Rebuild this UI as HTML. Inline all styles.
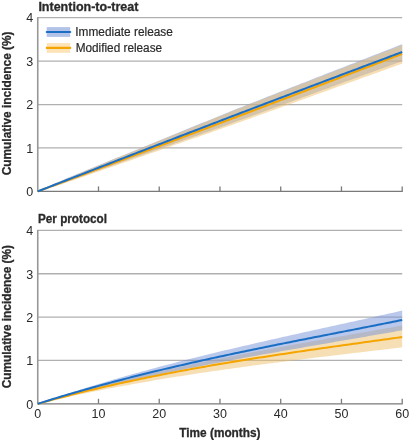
<!DOCTYPE html>
<html><head><meta charset="utf-8"><style>
html,body{margin:0;padding:0;background:#fff;}
svg{display:block;will-change:transform;}
text{font-family:"Liberation Sans",sans-serif;fill:#2a2a2a;}
.n{font-size:12.5px;}
.t{font-size:12px;font-weight:bold;stroke:#2a2a2a;stroke-width:0.3px;}
.l{font-size:12px;fill:#2a2a2a;stroke:#2a2a2a;stroke-width:0.2px;}
</style></head><body>
<svg width="409" height="440" viewBox="0 0 409 440">
<rect width="409" height="440" fill="#fff"/>
<line x1="37.75" y1="147.96" x2="402.20" y2="147.96" stroke="#b0b0b0" stroke-width="1.3"/>
<line x1="37.75" y1="104.53" x2="402.20" y2="104.53" stroke="#b0b0b0" stroke-width="1.3"/>
<line x1="37.75" y1="61.09" x2="402.20" y2="61.09" stroke="#b0b0b0" stroke-width="1.3"/>
<line x1="37.75" y1="17.65" x2="402.20" y2="17.65" stroke="#b0b0b0" stroke-width="1.3"/>
<polygon points="37.75,191.40 40.79,189.95 43.82,188.51 46.86,187.08 49.90,185.68 52.94,184.31 55.97,182.98 59.01,181.68 62.05,180.39 65.08,179.11 68.12,177.83 71.16,176.57 74.19,175.31 77.23,174.06 80.27,172.81 83.31,171.57 86.34,170.32 89.38,169.08 92.42,167.84 95.45,166.59 98.49,165.34 101.53,164.09 104.57,162.84 107.60,161.60 110.64,160.35 113.68,159.11 116.71,157.87 119.75,156.63 122.79,155.39 125.83,154.15 128.86,152.91 131.90,151.68 134.94,150.44 137.97,149.20 141.01,147.97 144.05,146.73 147.09,145.49 150.12,144.26 153.16,143.02 156.20,141.78 159.23,140.54 162.27,139.30 165.31,138.06 168.34,136.82 171.38,135.58 174.42,134.33 177.46,133.09 180.49,131.84 183.53,130.59 186.57,129.35 189.60,128.10 192.64,126.85 195.68,125.61 198.72,124.36 201.75,123.12 204.79,121.88 207.83,120.64 210.86,119.40 213.90,118.16 216.94,116.93 219.97,115.69 223.01,114.46 226.05,113.24 229.09,112.01 232.12,110.79 235.16,109.57 238.20,108.36 241.23,107.15 244.27,105.94 247.31,104.74 250.35,103.54 253.38,102.34 256.42,101.14 259.46,99.95 262.49,98.75 265.53,97.56 268.57,96.37 271.61,95.18 274.64,93.99 277.68,92.80 280.72,91.62 283.75,90.43 286.79,89.24 289.83,88.06 292.87,86.87 295.90,85.69 298.94,84.50 301.98,83.31 305.01,82.13 308.05,80.94 311.09,79.75 314.12,78.56 317.16,77.37 320.20,76.19 323.24,75.00 326.27,73.81 329.31,72.62 332.35,71.44 335.38,70.25 338.42,69.06 341.46,67.88 344.50,66.69 347.53,65.50 350.57,64.32 353.61,63.13 356.64,61.95 359.68,60.76 362.72,59.58 365.75,58.39 368.79,57.21 371.83,56.02 374.87,54.84 377.90,53.65 380.94,52.47 383.98,51.29 387.01,50.10 390.05,48.92 393.09,47.74 396.13,46.56 399.16,45.37 402.20,44.19 402.20,61.11 399.16,62.21 396.13,63.32 393.09,64.42 390.05,65.53 387.01,66.63 383.98,67.73 380.94,68.84 377.90,69.94 374.87,71.05 371.83,72.15 368.79,73.26 365.75,74.36 362.72,75.47 359.68,76.57 356.64,77.68 353.61,78.78 350.57,79.89 347.53,80.99 344.50,82.10 341.46,83.21 338.42,84.31 335.38,85.42 332.35,86.52 329.31,87.63 326.27,88.74 323.24,89.84 320.20,90.95 317.16,92.06 314.12,93.16 311.09,94.27 308.05,95.38 305.01,96.49 301.98,97.60 298.94,98.71 295.90,99.82 292.87,100.93 289.83,102.04 286.79,103.16 283.75,104.27 280.72,105.38 277.68,106.50 274.64,107.61 271.61,108.72 268.57,109.83 265.53,110.94 262.49,112.05 259.46,113.16 256.42,114.26 253.38,115.37 250.35,116.47 247.31,117.57 244.27,118.67 241.23,119.77 238.20,120.87 235.16,121.96 232.12,123.05 229.09,124.14 226.05,125.23 223.01,126.32 219.97,127.40 216.94,128.48 213.90,129.56 210.86,130.64 207.83,131.72 204.79,132.80 201.75,133.88 198.72,134.96 195.68,136.03 192.64,137.11 189.60,138.18 186.57,139.26 183.53,140.33 180.49,141.40 177.46,142.48 174.42,143.55 171.38,144.63 168.34,145.70 165.31,146.78 162.27,147.85 159.23,148.93 156.20,150.01 153.16,151.08 150.12,152.16 147.09,153.24 144.05,154.31 141.01,155.39 137.97,156.46 134.94,157.54 131.90,158.61 128.86,159.69 125.83,160.77 122.79,161.84 119.75,162.92 116.71,163.99 113.68,165.07 110.64,166.14 107.60,167.22 104.57,168.30 101.53,169.37 98.49,170.45 95.45,171.53 92.42,172.61 89.38,173.70 86.34,174.80 83.31,175.89 80.27,176.99 77.23,178.08 74.19,179.17 71.16,180.26 68.12,181.34 65.08,182.41 62.05,183.48 59.01,184.54 55.97,185.59 52.94,186.60 49.90,187.57 46.86,188.50 43.82,189.42 40.79,190.35 37.75,191.40" fill="rgb(115,145,215)" fill-opacity="0.5"/>
<polygon points="37.75,191.40 40.79,189.96 43.82,188.53 46.86,187.11 49.90,185.71 52.94,184.34 55.97,183.02 59.01,181.73 62.05,180.44 65.08,179.17 68.12,177.91 71.16,176.65 74.19,175.40 77.23,174.15 80.27,172.91 83.31,171.67 86.34,170.44 89.38,169.20 92.42,167.97 95.45,166.73 98.49,165.49 101.53,164.24 104.57,163.00 107.60,161.77 110.64,160.53 113.68,159.29 116.71,158.06 119.75,156.83 122.79,155.59 125.83,154.36 128.86,153.13 131.90,151.90 134.94,150.67 137.97,149.44 141.01,148.21 144.05,146.98 147.09,145.75 150.12,144.53 153.16,143.30 156.20,142.06 159.23,140.83 162.27,139.60 165.31,138.37 168.34,137.13 171.38,135.90 174.42,134.66 177.46,133.42 180.49,132.18 183.53,130.94 186.57,129.70 189.60,128.46 192.64,127.22 195.68,125.99 198.72,124.75 201.75,123.51 204.79,122.28 207.83,121.04 210.86,119.81 213.90,118.58 216.94,117.35 219.97,116.13 223.01,114.91 226.05,113.69 229.09,112.47 232.12,111.25 235.16,110.04 238.20,108.84 241.23,107.64 244.27,106.44 247.31,105.24 250.35,104.04 253.38,102.85 256.42,101.66 259.46,100.47 262.49,99.29 265.53,98.10 268.57,96.92 271.61,95.74 274.64,94.55 277.68,93.37 280.72,92.19 283.75,91.02 286.79,89.84 289.83,88.66 292.87,87.48 295.90,86.30 298.94,85.12 301.98,83.94 305.01,82.76 308.05,81.58 311.09,80.40 314.12,79.22 317.16,78.04 320.20,76.86 323.24,75.68 326.27,74.50 329.31,73.32 332.35,72.14 335.38,70.96 338.42,69.78 341.46,68.60 344.50,67.42 347.53,66.24 350.57,65.06 353.61,63.88 356.64,62.71 359.68,61.53 362.72,60.35 365.75,59.17 368.79,58.00 371.83,56.82 374.87,55.64 377.90,54.47 380.94,53.29 383.98,52.11 387.01,50.94 390.05,49.76 393.09,48.59 396.13,47.41 399.16,46.24 402.20,45.06 402.20,63.63 399.16,64.72 396.13,65.82 393.09,66.91 390.05,68.00 387.01,69.10 383.98,70.19 380.94,71.28 377.90,72.38 374.87,73.47 371.83,74.56 368.79,75.66 365.75,76.75 362.72,77.85 359.68,78.94 356.64,80.03 353.61,81.13 350.57,82.22 347.53,83.32 344.50,84.41 341.46,85.51 338.42,86.60 335.38,87.69 332.35,88.79 329.31,89.88 326.27,90.98 323.24,92.07 320.20,93.17 317.16,94.26 314.12,95.36 311.09,96.45 308.05,97.55 305.01,98.65 301.98,99.74 298.94,100.84 295.90,101.94 292.87,103.04 289.83,104.14 286.79,105.24 283.75,106.34 280.72,107.44 277.68,108.54 274.64,109.64 271.61,110.74 268.57,111.83 265.53,112.93 262.49,114.03 259.46,115.12 256.42,116.22 253.38,117.31 250.35,118.40 247.31,119.48 244.27,120.57 241.23,121.65 238.20,122.74 235.16,123.81 232.12,124.89 229.09,125.97 226.05,127.04 223.01,128.11 219.97,129.18 216.94,130.25 213.90,131.32 210.86,132.38 207.83,133.44 204.79,134.51 201.75,135.57 198.72,136.63 195.68,137.69 192.64,138.75 189.60,139.81 186.57,140.87 183.53,141.92 180.49,142.98 177.46,144.04 174.42,145.10 171.38,146.15 168.34,147.21 165.31,148.27 162.27,149.33 159.23,150.38 156.20,151.44 153.16,152.50 150.12,153.56 147.09,154.62 144.05,155.67 141.01,156.73 137.97,157.78 134.94,158.84 131.90,159.90 128.86,160.95 125.83,162.00 122.79,163.06 119.75,164.11 116.71,165.16 113.68,166.22 110.64,167.27 107.60,168.32 104.57,169.37 101.53,170.43 98.49,171.48 95.45,172.53 92.42,173.59 89.38,174.65 86.34,175.72 83.31,176.78 80.27,177.85 77.23,178.91 74.19,179.97 71.16,181.02 68.12,182.07 65.08,183.10 62.05,184.13 59.01,185.15 55.97,186.15 52.94,187.11 49.90,188.03 46.86,188.90 43.82,189.75 40.79,190.58 37.75,191.40" fill="rgb(240,192,108)" fill-opacity="0.5"/>
<line x1="37.75" y1="17.15" x2="37.75" y2="191.90" stroke="#979797" stroke-width="1.6"/>
<line x1="37.75" y1="191.40" x2="402.70" y2="191.40" stroke="#7a7a7a" stroke-width="1.3"/>
<line x1="98.49" y1="186.40" x2="98.49" y2="191.40" stroke="#7a7a7a" stroke-width="1.3"/>
<line x1="159.23" y1="186.40" x2="159.23" y2="191.40" stroke="#7a7a7a" stroke-width="1.3"/>
<line x1="219.97" y1="186.40" x2="219.97" y2="191.40" stroke="#7a7a7a" stroke-width="1.3"/>
<line x1="280.72" y1="186.40" x2="280.72" y2="191.40" stroke="#7a7a7a" stroke-width="1.3"/>
<line x1="341.46" y1="186.40" x2="341.46" y2="191.40" stroke="#7a7a7a" stroke-width="1.3"/>
<line x1="402.20" y1="186.40" x2="402.20" y2="191.40" stroke="#7a7a7a" stroke-width="1.3"/>
<polyline points="37.75,191.40 40.79,190.27 43.82,189.14 46.86,188.02 49.90,186.89 52.94,185.76 55.97,184.63 59.01,183.50 62.05,182.37 65.08,181.24 68.12,180.11 71.16,178.98 74.19,177.84 77.23,176.71 80.27,175.58 83.31,174.45 86.34,173.32 89.38,172.18 92.42,171.05 95.45,169.92 98.49,168.78 101.53,167.65 104.57,166.51 107.60,165.38 110.64,164.24 113.68,163.11 116.71,161.97 119.75,160.84 122.79,159.70 125.83,158.56 128.86,157.43 131.90,156.29 134.94,155.15 137.97,154.01 141.01,152.88 144.05,151.74 147.09,150.60 150.12,149.46 153.16,148.32 156.20,147.18 159.23,146.04 162.27,144.90 165.31,143.76 168.34,142.62 171.38,141.48 174.42,140.34 177.46,139.19 180.49,138.05 183.53,136.91 186.57,135.77 189.60,134.62 192.64,133.48 195.68,132.33 198.72,131.19 201.75,130.05 204.79,128.90 207.83,127.76 210.86,126.61 213.90,125.46 216.94,124.32 219.97,123.17 223.01,122.03 226.05,120.88 229.09,119.73 232.12,118.58 235.16,117.44 238.20,116.29 241.23,115.14 244.27,113.99 247.31,112.84 250.35,111.69 253.38,110.54 256.42,109.39 259.46,108.24 262.49,107.09 265.53,105.94 268.57,104.79 271.61,103.64 274.64,102.48 277.68,101.33 280.72,100.18 283.75,99.03 286.79,97.87 289.83,96.72 292.87,95.56 295.90,94.41 298.94,93.26 301.98,92.10 305.01,90.95 308.05,89.79 311.09,88.63 314.12,87.48 317.16,86.32 320.20,85.16 323.24,84.01 326.27,82.85 329.31,81.69 332.35,80.53 335.38,79.38 338.42,78.22 341.46,77.06 344.50,75.90 347.53,74.74 350.57,73.58 353.61,72.42 356.64,71.26 359.68,70.10 362.72,68.94 365.75,67.78 368.79,66.61 371.83,65.45 374.87,64.29 377.90,63.13 380.94,61.96 383.98,60.80 387.01,59.64 390.05,58.47 393.09,57.31 396.13,56.14 399.16,54.98 402.20,53.81" fill="none" stroke="#f5a500" stroke-width="2.0"/>
<polyline points="37.75,191.40 40.79,190.21 43.82,189.03 46.86,187.84 49.90,186.65 52.94,185.47 55.97,184.28 59.01,183.10 62.05,181.91 65.08,180.73 68.12,179.54 71.16,178.36 74.19,177.18 77.23,175.99 80.27,174.81 83.31,173.63 86.34,172.45 89.38,171.27 92.42,170.09 95.45,168.91 98.49,167.73 101.53,166.55 104.57,165.37 107.60,164.20 110.64,163.02 113.68,161.84 116.71,160.66 119.75,159.49 122.79,158.31 125.83,157.14 128.86,155.96 131.90,154.79 134.94,153.61 137.97,152.44 141.01,151.27 144.05,150.09 147.09,148.92 150.12,147.75 153.16,146.58 156.20,145.41 159.23,144.24 162.27,143.07 165.31,141.90 168.34,140.73 171.38,139.56 174.42,138.39 177.46,137.22 180.49,136.05 183.53,134.89 186.57,133.72 189.60,132.55 192.64,131.39 195.68,130.22 198.72,129.06 201.75,127.89 204.79,126.73 207.83,125.57 210.86,124.40 213.90,123.24 216.94,122.08 219.97,120.92 223.01,119.76 226.05,118.59 229.09,117.43 232.12,116.27 235.16,115.11 238.20,113.96 241.23,112.80 244.27,111.64 247.31,110.48 250.35,109.32 253.38,108.17 256.42,107.01 259.46,105.85 262.49,104.70 265.53,103.54 268.57,102.39 271.61,101.23 274.64,100.08 277.68,98.93 280.72,97.77 283.75,96.62 286.79,95.47 289.83,94.32 292.87,93.17 295.90,92.01 298.94,90.86 301.98,89.71 305.01,88.56 308.05,87.42 311.09,86.27 314.12,85.12 317.16,83.97 320.20,82.82 323.24,81.68 326.27,80.53 329.31,79.38 332.35,78.24 335.38,77.09 338.42,75.95 341.46,74.80 344.50,73.66 347.53,72.52 350.57,71.37 353.61,70.23 356.64,69.09 359.68,67.95 362.72,66.81 365.75,65.67 368.79,64.53 371.83,63.39 374.87,62.25 377.90,61.11 380.94,59.97 383.98,58.83 387.01,57.69 390.05,56.56 393.09,55.42 396.13,54.28 399.16,53.15 402.20,52.01" fill="none" stroke="#1a6ec4" stroke-width="2.0"/>
<text x="33.3" y="196.20" text-anchor="end" class="n">0</text>
<text x="33.3" y="152.76" text-anchor="end" class="n">1</text>
<text x="33.3" y="109.33" text-anchor="end" class="n">2</text>
<text x="33.3" y="65.89" text-anchor="end" class="n">3</text>
<text x="33.3" y="22.45" text-anchor="end" class="n">4</text>
<line x1="37.75" y1="360.45" x2="402.20" y2="360.45" stroke="#b0b0b0" stroke-width="1.3"/>
<line x1="37.75" y1="317.10" x2="402.20" y2="317.10" stroke="#b0b0b0" stroke-width="1.3"/>
<line x1="37.75" y1="273.75" x2="402.20" y2="273.75" stroke="#b0b0b0" stroke-width="1.3"/>
<line x1="37.75" y1="230.40" x2="402.20" y2="230.40" stroke="#b0b0b0" stroke-width="1.3"/>
<polygon points="37.75,403.80 40.79,402.87 43.82,401.94 46.86,401.02 49.90,400.11 52.94,399.21 55.97,398.31 59.01,397.43 62.05,396.54 65.08,395.67 68.12,394.80 71.16,393.94 74.19,393.08 77.23,392.23 80.27,391.39 83.31,390.56 86.34,389.73 89.38,388.90 92.42,388.09 95.45,387.28 98.49,386.47 101.53,385.68 104.57,384.88 107.60,384.10 110.64,383.32 113.68,382.55 116.71,381.78 119.75,381.01 122.79,380.26 125.83,379.51 128.86,378.76 131.90,378.02 134.94,377.29 137.97,376.56 141.01,375.83 144.05,375.11 147.09,374.40 150.12,373.69 153.16,372.99 156.20,372.29 159.23,371.60 162.27,370.91 165.31,370.22 168.34,369.54 171.38,368.87 174.42,368.20 177.46,367.53 180.49,366.87 183.53,366.21 186.57,365.56 189.60,364.91 192.64,364.26 195.68,363.62 198.72,362.99 201.75,362.35 204.79,361.72 207.83,361.10 210.86,360.48 213.90,359.86 216.94,359.24 219.97,358.63 223.01,358.03 226.05,357.42 229.09,356.82 232.12,356.22 235.16,355.63 238.20,355.04 241.23,354.45 244.27,353.86 247.31,353.28 250.35,352.70 253.38,352.12 256.42,351.54 259.46,350.97 262.49,350.40 265.53,349.83 268.57,349.27 271.61,348.71 274.64,348.14 277.68,347.59 280.72,347.03 283.75,346.47 286.79,345.92 289.83,345.37 292.87,344.82 295.90,344.27 298.94,343.73 301.98,343.18 305.01,342.64 308.05,342.10 311.09,341.55 314.12,341.01 317.16,340.48 320.20,339.94 323.24,339.40 326.27,338.87 329.31,338.33 332.35,337.80 335.38,337.26 338.42,336.73 341.46,336.20 344.50,335.67 347.53,335.13 350.57,334.60 353.61,334.07 356.64,333.54 359.68,333.01 362.72,332.48 365.75,331.95 368.79,331.41 371.83,330.88 374.87,330.35 377.90,329.82 380.94,329.28 383.98,328.75 387.01,328.22 390.05,327.68 393.09,327.14 396.13,326.61 399.16,326.07 402.20,325.53 402.20,347.37 399.16,347.73 396.13,348.09 393.09,348.45 390.05,348.81 387.01,349.16 383.98,349.52 380.94,349.88 377.90,350.24 374.87,350.60 371.83,350.96 368.79,351.32 365.75,351.67 362.72,352.03 359.68,352.39 356.64,352.75 353.61,353.11 350.57,353.47 347.53,353.83 344.50,354.19 341.46,354.56 338.42,354.92 335.38,355.28 332.35,355.65 329.31,356.01 326.27,356.38 323.24,356.74 320.20,357.11 317.16,357.48 314.12,357.85 311.09,358.22 308.05,358.59 305.01,358.97 301.98,359.34 298.94,359.72 295.90,360.10 292.87,360.48 289.83,360.86 286.79,361.24 283.75,361.63 280.72,362.01 277.68,362.40 274.64,362.79 271.61,363.18 268.57,363.58 265.53,363.97 262.49,364.37 259.46,364.77 256.42,365.18 253.38,365.58 250.35,365.99 247.31,366.40 244.27,366.81 241.23,367.22 238.20,367.64 235.16,368.06 232.12,368.48 229.09,368.91 226.05,369.34 223.01,369.77 219.97,370.20 216.94,370.64 213.90,371.08 210.86,371.52 207.83,371.97 204.79,372.42 201.75,372.87 198.72,373.33 195.68,373.79 192.64,374.25 189.60,374.72 186.57,375.19 183.53,375.66 180.49,376.14 177.46,376.62 174.42,377.11 171.38,377.59 168.34,378.09 165.31,378.58 162.27,379.08 159.23,379.59 156.20,380.10 153.16,380.61 150.12,381.13 147.09,381.65 144.05,382.18 141.01,382.71 137.97,383.24 134.94,383.78 131.90,384.33 128.86,384.88 125.83,385.43 122.79,385.99 119.75,386.55 116.71,387.12 113.68,387.69 110.64,388.27 107.60,388.85 104.57,389.44 101.53,390.04 98.49,390.63 95.45,391.24 92.42,391.85 89.38,392.46 86.34,393.08 83.31,393.71 80.27,394.34 77.23,394.98 74.19,395.62 71.16,396.27 68.12,396.92 65.08,397.58 62.05,398.25 59.01,398.92 55.97,399.60 52.94,400.28 49.90,400.97 46.86,401.67 43.82,402.37 40.79,403.08 37.75,403.80" fill="rgb(240,192,108)" fill-opacity="0.5"/>
<polygon points="37.75,403.80 40.79,402.74 43.82,401.70 46.86,400.65 49.90,399.62 52.94,398.60 55.97,397.58 59.01,396.57 62.05,395.56 65.08,394.57 68.12,393.58 71.16,392.60 74.19,391.62 77.23,390.66 80.27,389.69 83.31,388.74 86.34,387.79 89.38,386.85 92.42,385.92 95.45,384.99 98.49,384.07 101.53,383.16 104.57,382.25 107.60,381.34 110.64,380.45 113.68,379.56 116.71,378.67 119.75,377.80 122.79,376.92 125.83,376.06 128.86,375.19 131.90,374.34 134.94,373.49 137.97,372.64 141.01,371.80 144.05,370.97 147.09,370.14 150.12,369.32 153.16,368.50 156.20,367.68 159.23,366.87 162.27,366.07 165.31,365.27 168.34,364.47 171.38,363.68 174.42,362.89 177.46,362.11 180.49,361.33 183.53,360.56 186.57,359.79 189.60,359.02 192.64,358.26 195.68,357.50 198.72,356.75 201.75,356.00 204.79,355.25 207.83,354.51 210.86,353.77 213.90,353.03 216.94,352.30 219.97,351.57 223.01,350.84 226.05,350.12 229.09,349.40 232.12,348.68 235.16,347.97 238.20,347.25 241.23,346.54 244.27,345.84 247.31,345.13 250.35,344.43 253.38,343.73 256.42,343.03 259.46,342.34 262.49,341.64 265.53,340.95 268.57,340.26 271.61,339.58 274.64,338.89 277.68,338.21 280.72,337.52 283.75,336.84 286.79,336.16 289.83,335.48 292.87,334.81 295.90,334.13 298.94,333.46 301.98,332.78 305.01,332.11 308.05,331.44 311.09,330.77 314.12,330.10 317.16,329.43 320.20,328.76 323.24,328.09 326.27,327.42 329.31,326.76 332.35,326.09 335.38,325.42 338.42,324.75 341.46,324.09 344.50,323.42 347.53,322.75 350.57,322.08 353.61,321.42 356.64,320.75 359.68,320.08 362.72,319.41 365.75,318.74 368.79,318.07 371.83,317.39 374.87,316.72 377.90,316.05 380.94,315.37 383.98,314.70 387.01,314.02 390.05,313.34 393.09,312.66 396.13,311.98 399.16,311.29 402.20,310.61 402.20,330.30 399.16,330.84 396.13,331.37 393.09,331.90 390.05,332.43 387.01,332.96 383.98,333.49 380.94,334.02 377.90,334.54 374.87,335.07 371.83,335.59 368.79,336.12 365.75,336.64 362.72,337.16 359.68,337.69 356.64,338.21 353.61,338.73 350.57,339.25 347.53,339.78 344.50,340.30 341.46,340.82 338.42,341.34 335.38,341.86 332.35,342.38 329.31,342.91 326.27,343.43 323.24,343.95 320.20,344.47 317.16,345.00 314.12,345.52 311.09,346.05 308.05,346.57 305.01,347.10 301.98,347.63 298.94,348.15 295.90,348.68 292.87,349.21 289.83,349.74 286.79,350.27 283.75,350.81 280.72,351.34 277.68,351.88 274.64,352.41 271.61,352.95 268.57,353.49 265.53,354.03 262.49,354.58 259.46,355.12 256.42,355.67 253.38,356.22 250.35,356.77 247.31,357.32 244.27,357.87 241.23,358.43 238.20,358.99 235.16,359.55 232.12,360.11 229.09,360.67 226.05,361.24 223.01,361.81 219.97,362.38 216.94,362.96 213.90,363.54 210.86,364.12 207.83,364.70 204.79,365.29 201.75,365.88 198.72,366.47 195.68,367.06 192.64,367.66 189.60,368.26 186.57,368.87 183.53,369.48 180.49,370.09 177.46,370.70 174.42,371.32 171.38,371.94 168.34,372.57 165.31,373.20 162.27,373.83 159.23,374.47 156.20,375.11 153.16,375.75 150.12,376.40 147.09,377.05 144.05,377.71 141.01,378.37 137.97,379.03 134.94,379.70 131.90,380.38 128.86,381.06 125.83,381.74 122.79,382.43 119.75,383.12 116.71,383.81 113.68,384.52 110.64,385.22 107.60,385.93 104.57,386.65 101.53,387.37 98.49,388.10 95.45,388.83 92.42,389.57 89.38,390.31 86.34,391.06 83.31,391.81 80.27,392.57 77.23,393.33 74.19,394.10 71.16,394.88 68.12,395.66 65.08,396.45 62.05,397.24 59.01,398.04 55.97,398.84 52.94,399.65 49.90,400.47 46.86,401.29 43.82,402.12 40.79,402.96 37.75,403.80" fill="rgb(115,145,215)" fill-opacity="0.5"/>
<line x1="37.75" y1="229.90" x2="37.75" y2="404.30" stroke="#979797" stroke-width="1.6"/>
<line x1="37.75" y1="403.80" x2="402.70" y2="403.80" stroke="#7a7a7a" stroke-width="1.3"/>
<line x1="98.49" y1="398.80" x2="98.49" y2="403.80" stroke="#7a7a7a" stroke-width="1.3"/>
<line x1="159.23" y1="398.80" x2="159.23" y2="403.80" stroke="#7a7a7a" stroke-width="1.3"/>
<line x1="219.97" y1="398.80" x2="219.97" y2="403.80" stroke="#7a7a7a" stroke-width="1.3"/>
<line x1="280.72" y1="398.80" x2="280.72" y2="403.80" stroke="#7a7a7a" stroke-width="1.3"/>
<line x1="341.46" y1="398.80" x2="341.46" y2="403.80" stroke="#7a7a7a" stroke-width="1.3"/>
<line x1="402.20" y1="398.80" x2="402.20" y2="403.80" stroke="#7a7a7a" stroke-width="1.3"/>
<polyline points="37.75,403.80 40.79,402.95 43.82,402.11 46.86,401.28 49.90,400.46 52.94,399.64 55.97,398.83 59.01,398.03 62.05,397.23 65.08,396.44 68.12,395.66 71.16,394.89 74.19,394.12 77.23,393.36 80.27,392.60 83.31,391.86 86.34,391.12 89.38,390.38 92.42,389.66 95.45,388.93 98.49,388.22 101.53,387.51 104.57,386.81 107.60,386.11 110.64,385.42 113.68,384.74 116.71,384.06 119.75,383.39 122.79,382.72 125.83,382.06 128.86,381.40 131.90,380.75 134.94,380.11 137.97,379.47 141.01,378.84 144.05,378.21 147.09,377.59 150.12,376.97 153.16,376.36 156.20,375.75 159.23,375.15 162.27,374.55 165.31,373.96 168.34,373.37 171.38,372.79 174.42,372.21 177.46,371.64 180.49,371.07 183.53,370.50 186.57,369.94 189.60,369.38 192.64,368.83 195.68,368.28 198.72,367.74 201.75,367.20 204.79,366.66 207.83,366.13 210.86,365.60 213.90,365.08 216.94,364.56 219.97,364.04 223.01,363.53 226.05,363.02 229.09,362.51 232.12,362.01 235.16,361.51 238.20,361.01 241.23,360.52 244.27,360.02 247.31,359.54 250.35,359.05 253.38,358.57 256.42,358.09 259.46,357.61 262.49,357.14 265.53,356.67 268.57,356.20 271.61,355.73 274.64,355.27 277.68,354.81 280.72,354.35 283.75,353.89 286.79,353.44 289.83,352.98 292.87,352.53 295.90,352.08 298.94,351.63 301.98,351.19 305.01,350.74 308.05,350.30 311.09,349.86 314.12,349.42 317.16,348.98 320.20,348.55 323.24,348.11 326.27,347.68 329.31,347.24 332.35,346.81 335.38,346.38 338.42,345.95 341.46,345.52 344.50,345.09 347.53,344.67 350.57,344.24 353.61,343.81 356.64,343.39 359.68,342.96 362.72,342.54 365.75,342.11 368.79,341.69 371.83,341.26 374.87,340.84 377.90,340.42 380.94,339.99 383.98,339.57 387.01,339.14 390.05,338.72 393.09,338.29 396.13,337.87 399.16,337.44 402.20,337.02" fill="none" stroke="#f5a500" stroke-width="2.0"/>
<polyline points="37.75,403.80 40.79,402.84 43.82,401.89 46.86,400.94 49.90,400.00 52.94,399.07 55.97,398.15 59.01,397.23 62.05,396.32 65.08,395.41 68.12,394.52 71.16,393.63 74.19,392.74 77.23,391.86 80.27,390.99 83.31,390.13 86.34,389.27 89.38,388.42 92.42,387.57 95.45,386.73 98.49,385.90 101.53,385.07 104.57,384.25 107.60,383.43 110.64,382.62 113.68,381.81 116.71,381.01 119.75,380.22 122.79,379.43 125.83,378.64 128.86,377.87 131.90,377.09 134.94,376.32 137.97,375.56 141.01,374.80 144.05,374.05 147.09,373.30 150.12,372.56 153.16,371.82 156.20,371.08 159.23,370.35 162.27,369.62 165.31,368.90 168.34,368.19 171.38,367.47 174.42,366.76 177.46,366.06 180.49,365.36 183.53,364.66 186.57,363.97 189.60,363.28 192.64,362.59 195.68,361.91 198.72,361.23 201.75,360.56 204.79,359.89 207.83,359.22 210.86,358.55 213.90,357.89 216.94,357.23 219.97,356.58 223.01,355.92 226.05,355.27 229.09,354.63 232.12,353.98 235.16,353.34 238.20,352.70 241.23,352.06 244.27,351.43 247.31,350.80 250.35,350.17 253.38,349.54 256.42,348.92 259.46,348.29 262.49,347.67 265.53,347.05 268.57,346.44 271.61,345.82 274.64,345.21 277.68,344.59 280.72,343.98 283.75,343.37 286.79,342.77 289.83,342.16 292.87,341.56 295.90,340.95 298.94,340.35 301.98,339.75 305.01,339.15 308.05,338.55 311.09,337.95 314.12,337.35 317.16,336.75 320.20,336.15 323.24,335.56 326.27,334.96 329.31,334.37 332.35,333.77 335.38,333.18 338.42,332.58 341.46,331.99 344.50,331.39 347.53,330.80 350.57,330.20 353.61,329.61 356.64,329.01 359.68,328.41 362.72,327.82 365.75,327.22 368.79,326.62 371.83,326.03 374.87,325.43 377.90,324.83 380.94,324.23 383.98,323.63 387.01,323.02 390.05,322.42 393.09,321.82 396.13,321.21 399.16,320.60 402.20,320.00" fill="none" stroke="#1a6ec4" stroke-width="2.0"/>
<text x="33.3" y="408.60" text-anchor="end" class="n">0</text>
<text x="33.3" y="365.25" text-anchor="end" class="n">1</text>
<text x="33.3" y="321.90" text-anchor="end" class="n">2</text>
<text x="33.3" y="278.55" text-anchor="end" class="n">3</text>
<text x="33.3" y="235.20" text-anchor="end" class="n">4</text>
<text x="38.4" y="11" class="t" textLength="100" lengthAdjust="spacingAndGlyphs">Intention-to-treat</text>
<text x="38.0" y="223.3" class="t" textLength="69" lengthAdjust="spacingAndGlyphs">Per protocol</text>
<text x="179.3" y="436.7" class="t" textLength="81.2" lengthAdjust="spacingAndGlyphs">Time (months)</text>
<text transform="translate(11.2,175.3) rotate(-90)" class="t" textLength="143.8" lengthAdjust="spacingAndGlyphs">Cumulative incidence (%)</text>
<text transform="translate(11.2,388.2) rotate(-90)" class="t" textLength="143.2" lengthAdjust="spacingAndGlyphs">Cumulative incidence (%)</text>
<rect x="46.7" y="27.1" width="23.5" height="9.8" fill="#b3c2e8"/>
<line x1="46.8" y1="32" x2="70.2" y2="32" stroke="#1a6ec4" stroke-width="2.2" stroke-linecap="round"/>
<rect x="46.7" y="43" width="23.5" height="9.8" fill="#fde3b8"/>
<line x1="46.8" y1="47.9" x2="70.2" y2="47.9" stroke="#f5a500" stroke-width="2.2" stroke-linecap="round"/>
<text x="75.3" y="35.9" class="l" textLength="97.6" lengthAdjust="spacingAndGlyphs">Immediate release</text>
<text x="75.7" y="52.3" class="l" textLength="86.4" lengthAdjust="spacingAndGlyphs">Modified release</text>
<text x="37.75" y="417.8" text-anchor="middle" class="n">0</text>
<text x="98.49" y="417.8" text-anchor="middle" class="n">10</text>
<text x="159.23" y="417.8" text-anchor="middle" class="n">20</text>
<text x="219.97" y="417.8" text-anchor="middle" class="n">30</text>
<text x="280.72" y="417.8" text-anchor="middle" class="n">40</text>
<text x="341.46" y="417.8" text-anchor="middle" class="n">50</text>
<text x="402.20" y="417.8" text-anchor="middle" class="n">60</text>
</svg></body></html>
